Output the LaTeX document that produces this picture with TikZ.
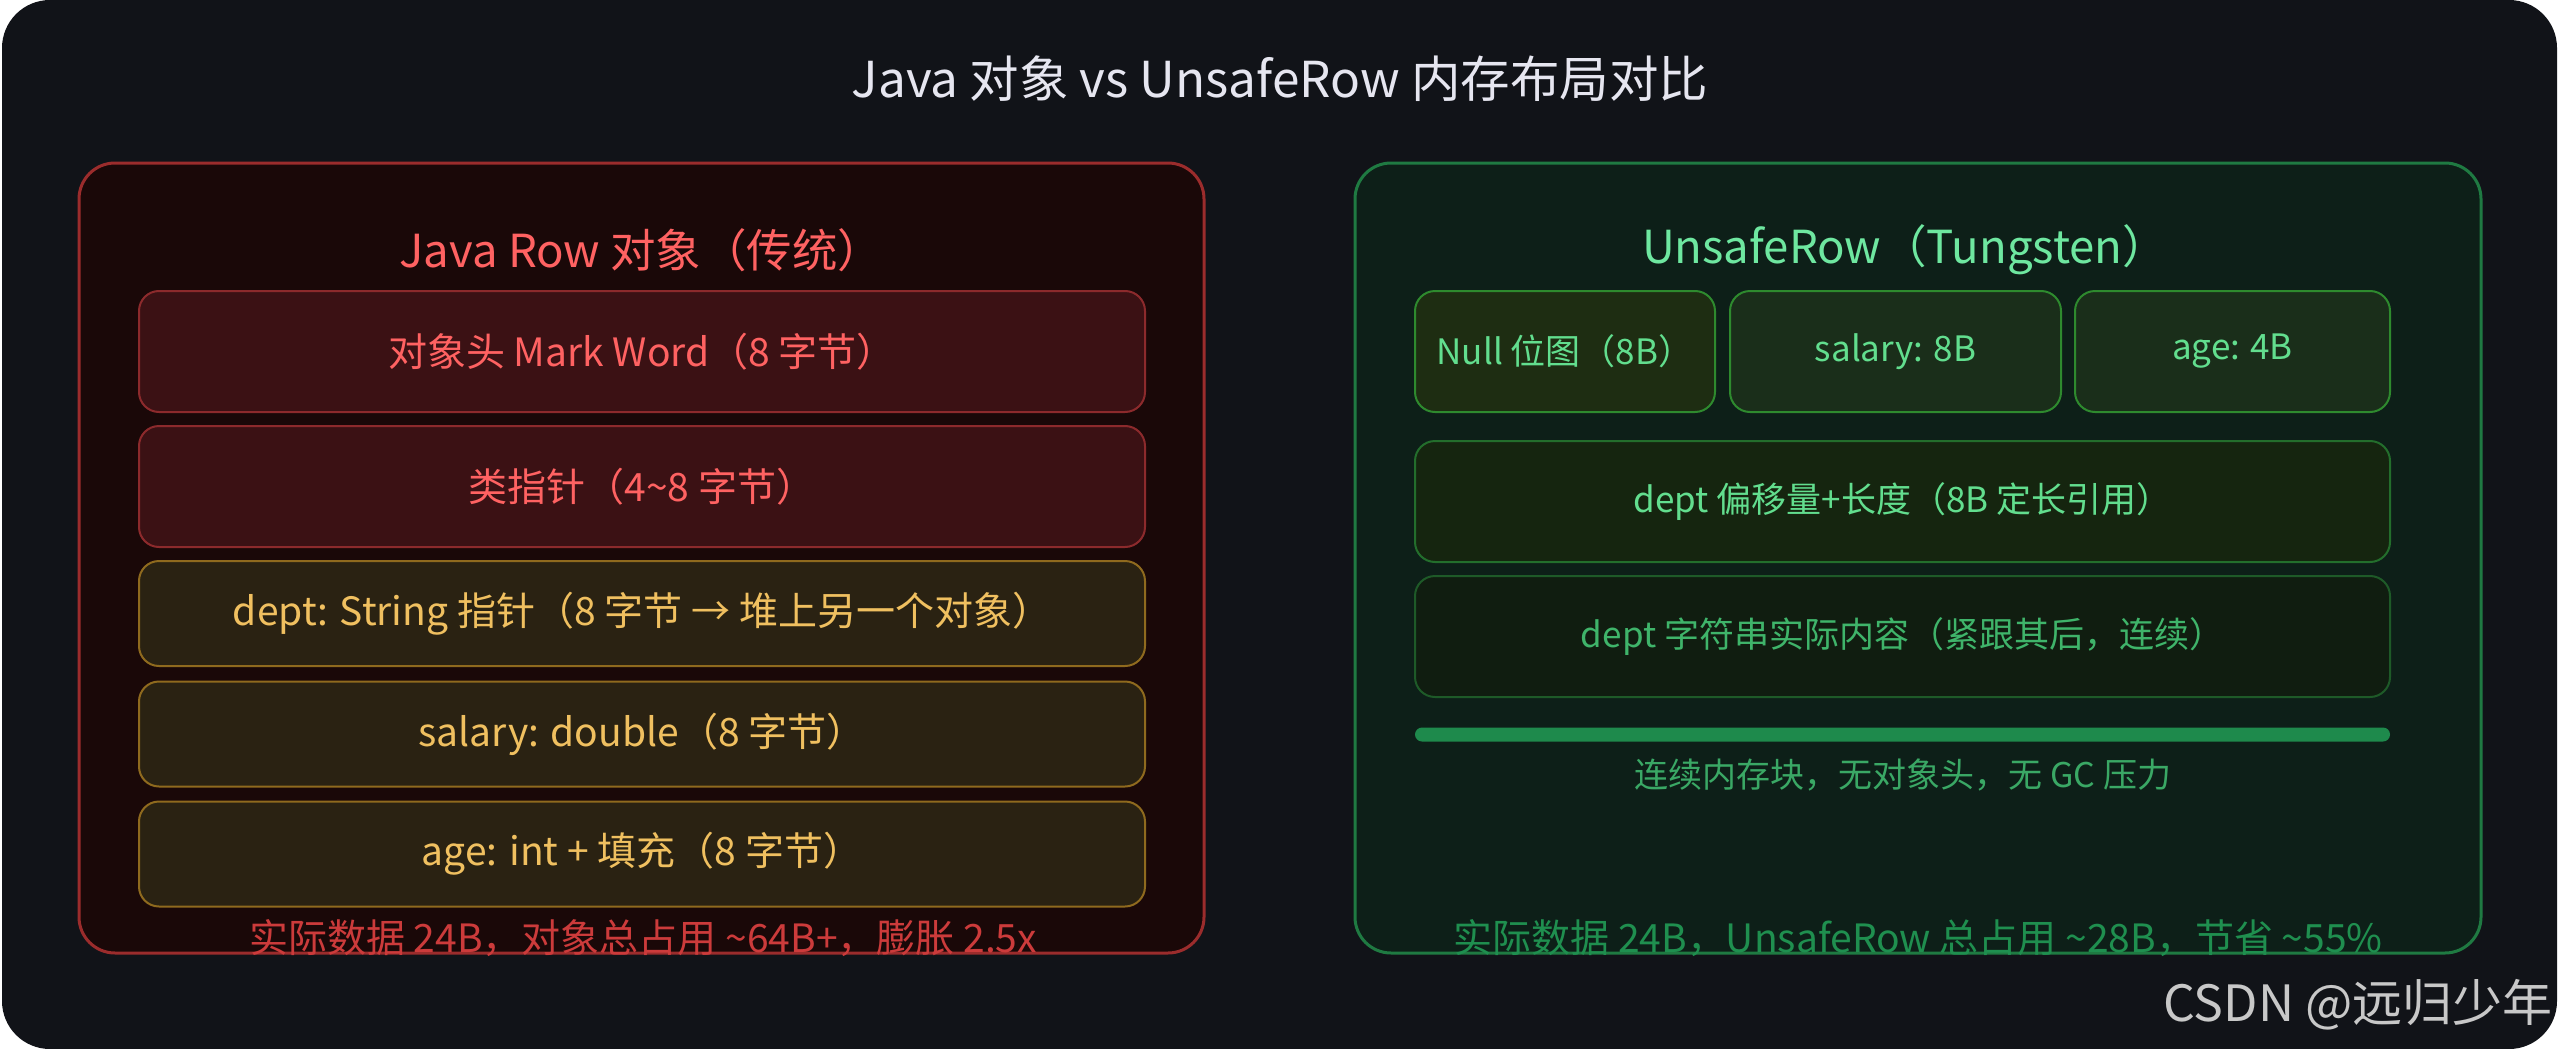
\documentclass[tikz,border=0pt]{standalone}
\usepackage{fontspec}
\setmainfont{Noto Sans CJK SC}
\definecolor{bgDark}{HTML}{111318}
\definecolor{titleC}{HTML}{E6E6F0}
\definecolor{redPanF}{HTML}{1A0808}
\definecolor{redPanB}{HTML}{9B2C2C}
\definecolor{redBoxF}{HTML}{3B1114}
\definecolor{redBoxB}{HTML}{8C2A2C}
\definecolor{redTxt}{HTML}{FF6262}
\definecolor{redFoot}{HTML}{CC3B3B}
\definecolor{yelBoxF}{HTML}{2A2212}
\definecolor{yelBoxB}{HTML}{8F6A1E}
\definecolor{yelTxt}{HTML}{F0C060}
\definecolor{grnPanF}{HTML}{0D1F18}
\definecolor{grnPanB}{HTML}{1F7A42}
\definecolor{grnTitle}{HTML}{6EE7A0}
\definecolor{nullF}{HTML}{1E2D12}
\definecolor{cellF}{HTML}{1A2E1A}
\definecolor{cellB}{HTML}{2E8A2E}
\definecolor{cellTxt}{HTML}{62DE8E}
\definecolor{offF}{HTML}{15250F}
\definecolor{offB}{HTML}{236E2C}
\definecolor{contF}{HTML}{101D10}
\definecolor{contB}{HTML}{1E5A28}
\definecolor{contTxt}{HTML}{3FB46A}
\definecolor{barC}{HTML}{1E8A4C}
\definecolor{capTxt}{HTML}{3AA865}
\definecolor{grnFoot}{HTML}{1F8F4F}
\definecolor{wmark}{HTML}{C8C8C8}
\tikzset{
  fTitle/.style={font=\fontsize{49.5pt}{49.5pt}\selectfont},
  fPanel/.style={font=\fontsize{45.5pt}{45.5pt}\selectfont},
  fBox/.style={font=\fontsize{39pt}{39pt}\selectfont},
  fCell/.style={font=\fontsize{35pt}{35pt}\selectfont},
  fCap/.style={font=\fontsize{34pt}{34pt}\selectfont},
  fFoot/.style={font=\fontsize{39pt}{39pt}\selectfont},
  panel/.style={line width=3pt, rounded corners=36pt, inner sep=0pt},
  cell/.style={line width=2pt, rounded corners=20pt, inner sep=0pt},
  redbox/.style={cell, draw=redBoxB, fill=redBoxF, text=redTxt, fBox, minimum width=1006pt},
  yelbox/.style={cell, draw=yelBoxB, fill=yelBoxF, text=yelTxt, fBox, minimum width=1006pt, minimum height=105pt},
}
\begin{document}
\begin{tikzpicture}[x=1pt,y=-1pt]
\useasboundingbox (0,0) rectangle (2560,1049);
\fill[white] (0,0) rectangle (2560,1049);
\fill[bgDark, rounded corners=48pt] (2,0) rectangle (2557,1049);
\node[fTitle, text=titleC] (title) at (1280,79) {Java 对象 vs UnsafeRow 内存布局对比};

% left panel
\node[panel, draw=redPanB, fill=redPanF, minimum width=1125pt, minimum height=790pt] (lpanel) at (641.5,558) {};
\node[fPanel, text=redTxt] (ltitle) at (641.5,250) {Java Row 对象（传统）};
\node[redbox, minimum height=121pt] (b1) at (642,351.5) {对象头 Mark Word（8 字节）};
\node[redbox, minimum height=121pt] (b2) at (642,486.5) {类指针（4\textasciitilde 8 字节）};
\node[yelbox] (b3) at (642,613.5) {dept: String 指针（8 字节 → 堆上另一个对象）};
\node[yelbox] (b4) at (642,734) {salary: double（8 字节）};
\node[yelbox] (b5) at (642,854) {age: int + 填充（8 字节）};
\node[fFoot, text=redFoot] (lfoot) at (643,938) {实际数据 24B，对象总占用 \textasciitilde 64B+，膨胀 2.5x};

% right panel
\node[panel, draw=grnPanB, fill=grnPanF, minimum width=1126pt, minimum height=790pt] (rpanel) at (1918,558) {};
\node[fPanel, text=grnTitle] (rtitle) at (1905,250) {UnsafeRow（Tungsten）};
\node[cell, draw=cellB, fill=nullF, text=cellTxt, fCell, minimum width=300pt, minimum height=121pt] (rA) at (1565,351.5) {Null 位图（8B）};
\node[cell, draw=cellB, fill=cellF, text=cellTxt, fCell, minimum width=331pt, minimum height=121pt] (rB) at (1895.5,351.5) {salary: 8B};
\node[cell, draw=cellB, fill=cellF, text=cellTxt, fCell, minimum width=315pt, minimum height=121pt] (rC) at (2232.5,351.5) {age: 4B};
\node[cell, draw=offB, fill=offF, text=cellTxt, fCell, minimum width=975pt, minimum height=121pt] (rD) at (1902.5,501.5) {dept 偏移量+长度（8B 定长引用）};
\node[cell, draw=contB, fill=contF, text=contTxt, fCell, minimum width=975pt, minimum height=121pt] (rE) at (1902.5,636.5) {dept 字符串实际内容（紧跟其后，连续）};
\node[fill=barC, rounded corners=7pt, inner sep=0pt, minimum width=975pt, minimum height=14pt] (bar) at (1902.5,734.5) {};
\node[fCap, text=capTxt] (cap) at (1903,775) {连续内存块，无对象头，无 GC 压力};
\node[fFoot, text=grnFoot] (rfoot) at (1918,938) {实际数据 24B，UnsafeRow 总占用 \textasciitilde 28B，节省 \textasciitilde 55\%};

% watermark
\node[font=\fontsize{50pt}{50pt}\selectfont, text=wmark] (wm) at (2358,1005) {CSDN @远归少年};
\end{tikzpicture}
\end{document}
